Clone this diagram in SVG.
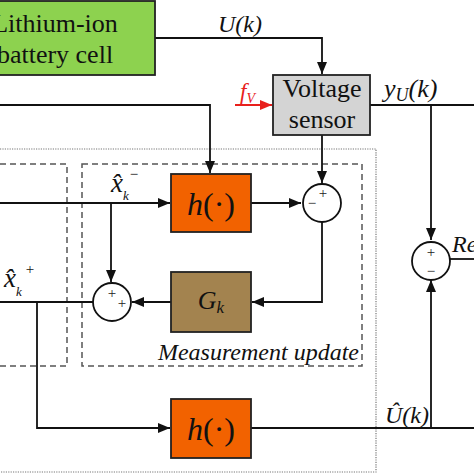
<svg xmlns="http://www.w3.org/2000/svg" width="474" height="474" viewBox="0 0 474 474">
<style>
text{font-family:"Liberation Serif","DejaVu Serif","Times New Roman",serif}
.t{fill:#111}
.i{font-style:italic}
.ln{fill:none;stroke:#111;stroke-width:1.8}
.blk{stroke:#222;stroke-width:1.8}
.dash{fill:none;stroke:#555;stroke-width:1.5;stroke-dasharray:6 4}
.dot{fill:none;stroke:#777;stroke-width:1.2;stroke-dasharray:1.2 1.2}
.sg{font-size:15px;fill:#222;text-anchor:middle}
</style>
<defs>
<marker id="a" markerUnits="userSpaceOnUse" markerWidth="13" markerHeight="10" refX="12" refY="5" orient="auto">
<path d="M0,0 L12,5 L0,10 Z" fill="#111"/>
</marker>
<marker id="ar" markerUnits="userSpaceOnUse" markerWidth="13" markerHeight="10" refX="12" refY="5" orient="auto">
<path d="M0,0 L12,5 L0,10 Z" fill="#e8201c"/>
</marker>
</defs>
<rect width="474" height="474" fill="#fff"/>
<g id="outer">
<path class="dot" d="M0,149 H376 V472 H0"/>
</g>
<g id="time-update">
<path class="dash" d="M0,164 H67 V366 H0"/>
</g>
<g id="measurement-update">
<rect class="dash" x="82" y="164" width="280" height="202"/>
<text class="t i" x="359" y="360" font-size="24" text-anchor="end">Measurement update</text>
</g>
<g id="connectors">
<path class="ln" d="M155,38 H322 V74" marker-end="url(#a)"/>
<path d="M235,105 H272" fill="none" stroke="#e8201c" stroke-width="2" marker-end="url(#ar)"/>
<path class="ln" d="M370,105 H474"/>
<path class="ln" d="M431,105 V240" marker-end="url(#a)"/>
<path class="ln" d="M0,105 H210 V173" marker-end="url(#a)"/>
<path class="ln" d="M0,203 H170" marker-end="url(#a)"/>
<path class="ln" d="M111,203 V282" marker-end="url(#a)"/>
<path class="ln" d="M251,203 H301" marker-end="url(#a)"/>
<path class="ln" d="M322,135 V183" marker-end="url(#a)"/>
<path class="ln" d="M322,222 V302 H252" marker-end="url(#a)"/>
<path class="ln" d="M171,302 H132" marker-end="url(#a)"/>
<path class="ln" d="M93,302 H0"/>
<path class="ln" d="M37,302 V428 H170" marker-end="url(#a)"/>
<path class="ln" d="M251,428 H474"/>
<path class="ln" d="M431,428 V280" marker-end="url(#a)"/>
<path class="ln" d="M450,259 H474"/>
</g>
<g id="battery">
<rect class="blk" x="-3" y="1" width="158" height="74" fill="#8dd24f"/>
<text class="t" x="55" y="32" font-size="26" text-anchor="middle">Lithium-ion</text>
<text class="t" x="55" y="63" font-size="26" text-anchor="middle">battery cell</text>
</g>
<g id="voltage-sensor">
<rect class="blk" x="273" y="75" width="97" height="60" fill="#d4d4d4"/>
<text class="t" x="322" y="97" font-size="26" text-anchor="middle">Voltage</text>
<text class="t" x="322" y="128" font-size="26" text-anchor="middle">sensor</text>
</g>
<g id="h-top">
<rect class="blk" x="171" y="174" width="80" height="58" fill="#f26200"/>
<text class="t" x="211" y="215" font-size="32" text-anchor="middle"><tspan class="i">h</tspan>(·)</text>
</g>
<g id="gk">
<rect class="blk" x="171" y="272" width="80" height="60" fill="#a3834f"/>
<text class="t i" x="211" y="309" font-size="26" text-anchor="middle">G<tspan font-size="17" dy="4">k</tspan></text>
</g>
<g id="h-bottom">
<rect class="blk" x="171" y="399" width="80" height="59" fill="#f26200"/>
<text class="t" x="211" y="440" font-size="32" text-anchor="middle"><tspan class="i">h</tspan>(·)</text>
</g>
<g id="sum-top">
<circle cx="322" cy="203" r="19" fill="#fff" stroke="#111" stroke-width="1.8"/>
<text class="sg" x="323" y="198">+</text>
<text class="sg" x="312" y="208">−</text>
</g>
<g id="sum-left">
<circle cx="112" cy="302" r="19" fill="#fff" stroke="#111" stroke-width="1.8"/>
<text class="sg" x="112" y="298">+</text>
<text class="sg" x="122" y="308">+</text>
</g>
<g id="sum-right">
<circle cx="431" cy="261" r="19" fill="#fff" stroke="#111" stroke-width="1.8"/>
<text class="sg" x="431" y="257">+</text>
<text class="sg" x="431" y="276">−</text>
</g>
<g id="labels">
<text class="t i" x="218" y="32" font-size="24">U(k)</text>
<text class="i" x="240" y="99" font-size="23" fill="#e8201c">f<tspan font-size="14" dy="4">V</tspan></text>
<text class="t i" x="384" y="97" font-size="26">y<tspan font-size="18" dy="4">U</tspan><tspan dy="-4">(k)</tspan></text>
<text class="t i" x="452" y="252" font-size="24">Re</text>
<text class="t i" x="111" y="192" font-size="27">x̂<tspan font-size="13" dy="8">k</tspan><tspan class="t" font-style="normal" font-size="15" dx="1" dy="-21">−</tspan></text>
<text class="t i" x="4" y="287" font-size="27">x̂<tspan font-size="13" dy="9">k</tspan><tspan font-style="normal" font-size="15" dx="4" dy="-22">+</tspan></text>
<text class="t i" x="385" y="423" font-size="24">Û(k)</text>
</g>
</svg>
